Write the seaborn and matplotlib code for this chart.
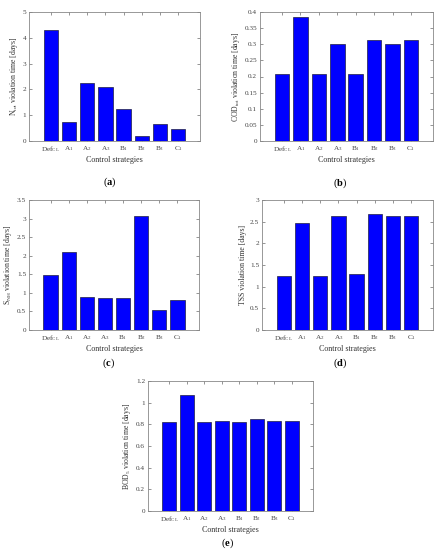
import numpy as np
import pandas as pd
import seaborn as sns
import matplotlib.pyplot as plt

sns.set_style("white")
plt.rcParams['font.family'] = ['Liberation Serif', 'DejaVu Serif']
plt.rcParams['mathtext.fontset'] = 'custom'
plt.rcParams['mathtext.rm'] = 'Liberation Serif'
plt.rcParams['mathtext.it'] = 'Liberation Serif:italic'
plt.rcParams['mathtext.bf'] = 'Liberation Serif:bold'

# Data
strategies = [r"Def$_{\mathrm{CL}}$", r"A$_1$", r"A$_2$", r"A$_3$",
              r"B$_1$", r"B$_2$", r"B$_3$", r"C$_1$"]
ntot = [4.29, 0.75, 2.23, 2.11, 1.25, 0.18, 0.64, 0.46]
cod = [0.208, 0.385, 0.208, 0.302, 0.208, 0.3125, 0.302, 0.3125]
snh = [1.49, 2.11, 0.90, 0.85, 0.86, 3.08, 0.53, 0.82]
tss = [1.24, 2.47, 1.24, 2.64, 1.29, 2.68, 2.64, 2.63]
bod = [0.82, 1.07, 0.82, 0.833, 0.82, 0.85, 0.833, 0.833]

panels = [
    ("a", ntot, r"N$_{\mathrm{tot}}$ violation time [days]", 5, [0, 1, 2, 3, 4, 5],
     [29, 12, 171, 129], (110, 182)),
    ("b", cod, r"COD$_{\mathrm{tot}}$ violation time [days]", 0.4,
     [0, 0.05, 0.1, 0.15, 0.2, 0.25, 0.3, 0.35, 0.4],
     [260, 12, 173, 129], (340, 183)),
    ("c", snh, r"S$_{\mathrm{NH}}$ violation time [days]", 3.5,
     [0, 0.5, 1, 1.5, 2, 2.5, 3, 3.5],
     [29, 200, 170, 130], (108, 363)),
    ("d", tss, "TSS violation time [days]", 3, [0, 0.5, 1, 1.5, 2, 2.5, 3],
     [262, 200, 171, 130], (340, 363)),
    ("e", bod, r"BOD$_5$ violation time [days]", 1.2,
     [0, 0.2, 0.4, 0.6, 0.8, 1, 1.2],
     [148, 381, 165, 130], (227, 543)),
]

W, H = 439, 550
fig = plt.figure(figsize=(W / 100, H / 100), dpi=100)

for letter, vals, ylabel, ymax, yticks, (x0, y0, w, h), (lx, ly) in panels:
    ax = fig.add_axes([x0 / W, (H - y0 - h) / H, w / W, h / H])
    df = pd.DataFrame({"strategy": strategies, "value": vals})
    sns.barplot(data=df, x="strategy", y="value", color="#0000ff",
                saturation=1, width=0.8, edgecolor="#202040", linewidth=0.5, ax=ax)
    ax.set_xlim(-1.2, 8.2)
    ax.set_ylim(0, ymax)
    ax.set_yticks(yticks)
    ax.set_yticklabels([f"{v:g}" for v in yticks])
    ax.set_xlabel("Control strategies", fontsize=5.8, color="#333333", labelpad=2)
    ax.set_ylabel(ylabel, fontsize=5.6, color="#333333", labelpad=2)
    ax.tick_params(axis="both", direction="in", length=2, width=0.4,
                   labelsize=5.2, colors="#444444", pad=2,
                   right=True, top=True, left=True, bottom=True)
    for sp in ax.spines.values():
        sp.set_color("#888888")
        sp.set_linewidth(0.6)
    fig.text(lx / W, 1 - ly / H, r"($\mathbf{" + letter + r"}$)", ha="center",
             va="center", fontsize=7.5, color="black")

plt.savefig("out.png", dpi=100)
